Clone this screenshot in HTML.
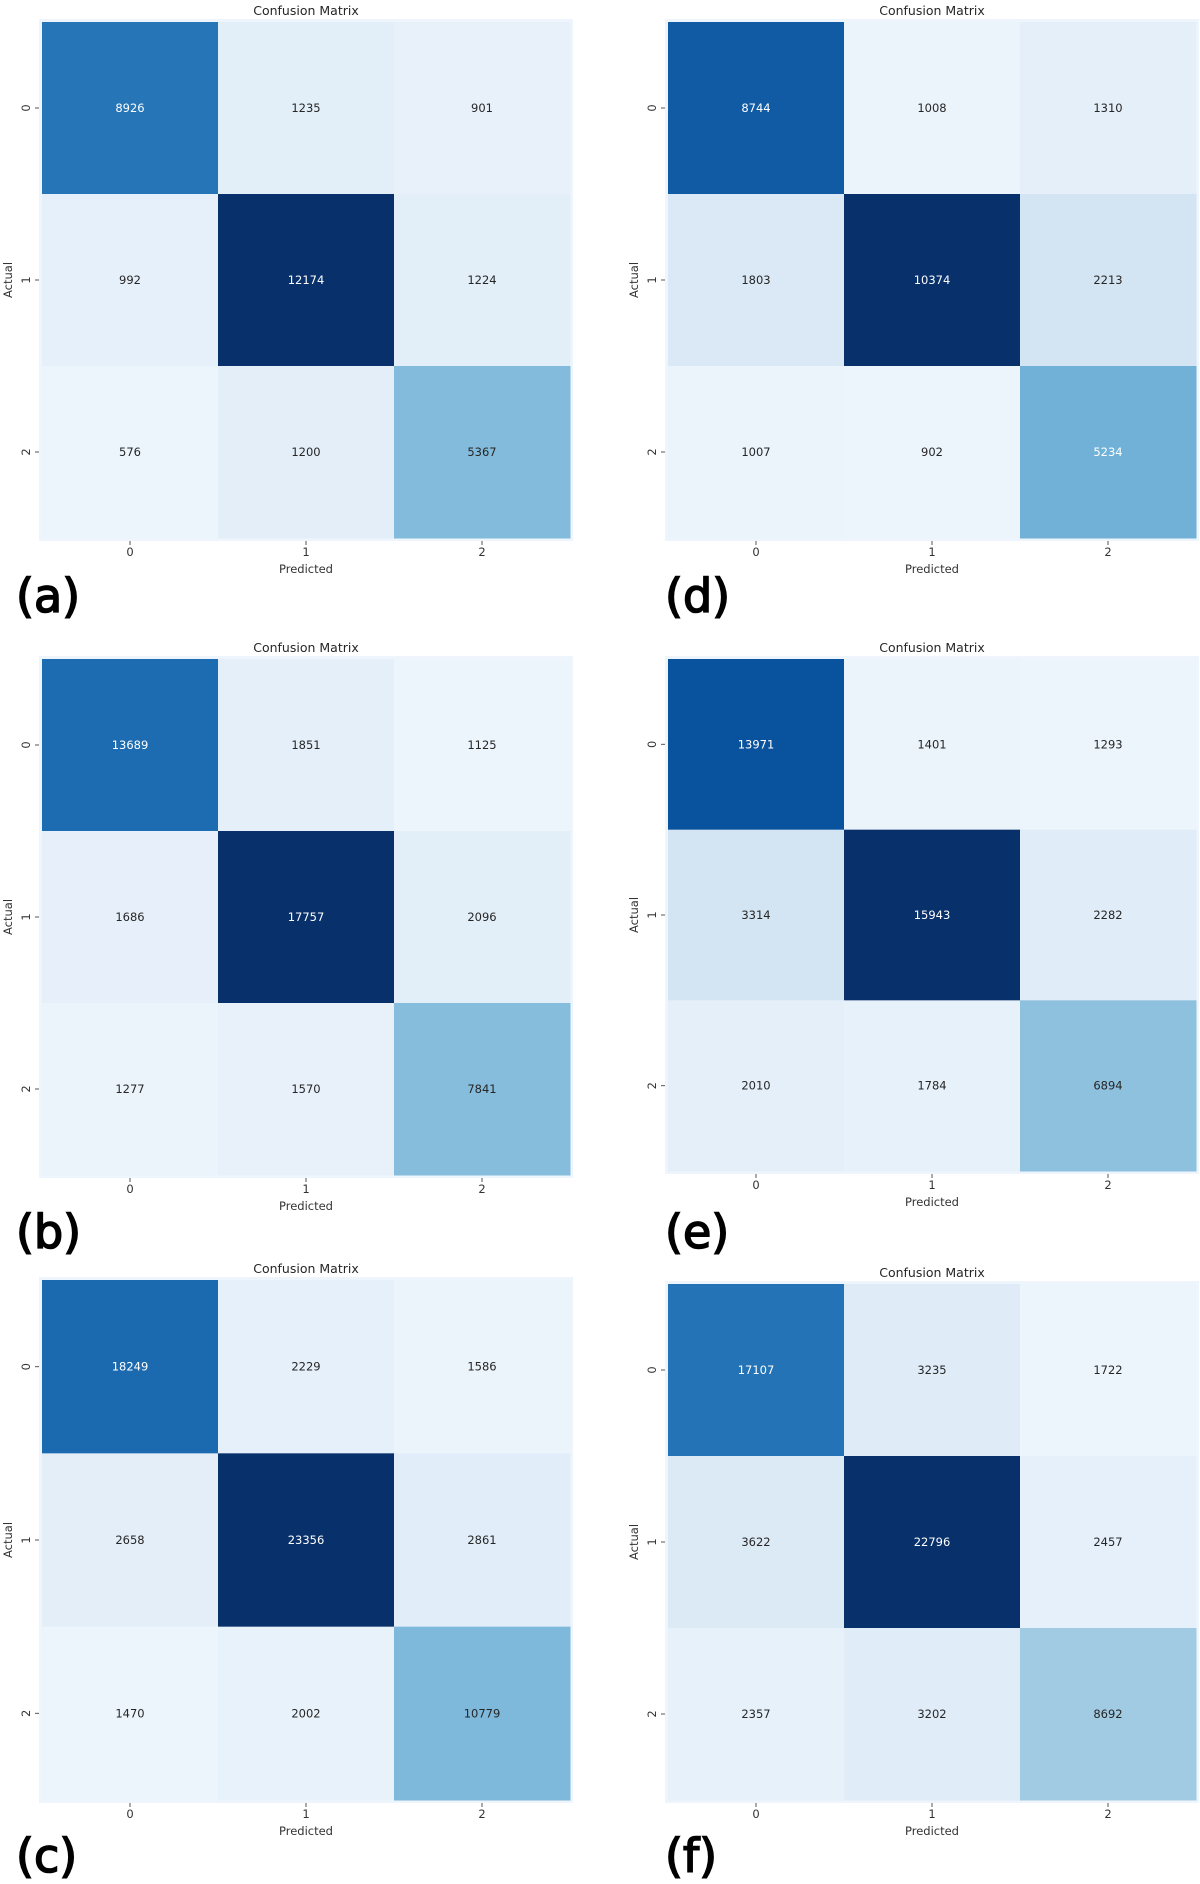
<!DOCTYPE html>
<html><head><meta charset="utf-8"><style>
html,body{margin:0;padding:0;background:#fff;}
svg{display:block;}
text{font-family:"DejaVu Sans","Liberation Sans",sans-serif;}
</style></head>
<body>
<svg id="fig" width="1200" height="1884" viewBox="0 0 1200 1884" xmlns="http://www.w3.org/2000/svg"></svg>
<script>
const panelLabels = ["(a)","(b)","(c)","(d)","(e)","(f)"];
const classLabels = ["0","1","2"];
const matA = [[8926,1235,901],[992,12174,1224],[576,1200,5367]];
const matB = [[13689,1851,1125],[1686,17757,2096],[1277,1570,7841]];
const matC = [[18249,2229,1586],[2658,23356,2861],[1470,2002,10779]];
const matD = [[8744,1008,1310],[1803,10374,2213],[1007,902,5234]];
const matE = [[13971,1401,1293],[3314,15943,2282],[2010,1784,6894]];
const matF = [[17107,3235,1722],[3622,22796,2457],[2357,3202,8692]];
const matrices = [matA,matB,matC,matD,matE,matF];

const NS="http://www.w3.org/2000/svg";
const svg=document.getElementById('fig');
const stops=["#f7fbff","#deebf7","#c6dbef","#9ecae1","#6baed6","#4292c6","#2171b5","#08519c","#08306b"];
function hex(h){return [parseInt(h.slice(1,3),16),parseInt(h.slice(3,5),16),parseInt(h.slice(5,7),16)];}
function blues(t){t=Math.max(0,Math.min(1,t));const p=t*8;const i=Math.min(7,Math.floor(p));const f=p-i;
 const a=hex(stops[i]),b=hex(stops[i+1]);return a.map((v,k)=>Math.round(v+(b[k]-v)*f));}
function lum(c){const l=c.map(v=>{v/=255;return v<=0.03928?v/12.92:Math.pow((v+0.055)/1.055,2.4);});
 return 0.2126*l[0]+0.7152*l[1]+0.0722*l[2];}
function mk(tag,attrs,parent){const e=document.createElementNS(NS,tag);for(const k in attrs)e.setAttribute(k,attrs[k]);(parent||svg).appendChild(e);return e;}

const boxes=[[42,22,528,516],[42,659,528,516],[42,1280,528,520],[668,22,528,516],[668,659,528,512],[668,1284,528,516]];
const labelPos=[[16,612],[16,1248],[16,1872],[665,612],[665,1248],[665,1872]];

matrices.forEach((m,pi)=>{
  const [L,T,W,H]=boxes[pi];
  const g=mk('g',{});
  
  
  const flat=m.flat();const vmin=Math.min(...flat),vmax=Math.max(...flat);
  const cw=W/3,ch=H/3;
  const xs=j=>L+j*cw, ys=i=>T+i*ch;
  const border=mk('rect',{x:L-3,y:T-3,width:W+6,height:H+6,fill:"#eef5fc"},g);
  
  
  m.forEach((row,i)=>row.forEach((v,j)=>{
    const c=blues(0.05+0.95*(v-vmin)/(vmax-vmin));
    const r=mk('rect',{x:xs(j),y:ys(i),width:cw+0.5,height:ch+0.5,fill:`rgb(${c.join(',')})`},g);
    
    
    const t=mk('text',{x:xs(j)+cw/2,y:ys(i)+ch/2+4,'text-anchor':'middle','font-size':11.5,fill:lum(c)>0.408?'#262626':'#ffffff'},g);
    t.textContent=v;
    
    
  }));
  const title=mk('text',{x:L+W/2,y:T-7,'text-anchor':'middle','font-size':12.5,fill:'#262626'},g);
  title.textContent="Confusion Matrix";
  
  
  classLabels.forEach((lab,k)=>{
    mk('line',{x1:xs(k)+cw/2,x2:xs(k)+cw/2,y1:T+H+3,y2:T+H+7,stroke:'#555','stroke-width':1},g);
    const tx=mk('text',{x:xs(k)+cw/2,y:T+H+18,'text-anchor':'middle','font-size':11.5,fill:'#333'},g);
    tx.textContent=lab;
    
    
    mk('line',{x1:L-7,x2:L-3,y1:ys(k)+ch/2,y2:ys(k)+ch/2,stroke:'#555','stroke-width':1},g);
    const ty=mk('text',{x:0,y:0,'text-anchor':'middle','font-size':11.5,fill:'#333',transform:`translate(${L-12},${ys(k)+ch/2}) rotate(-90)`},g);
    ty.textContent=lab;
    
    
  });
  const xl=mk('text',{x:L+W/2,y:T+H+35,'text-anchor':'middle','font-size':11.5,fill:'#333'},g);
  xl.textContent="Predicted";
  
  
  const yl=mk('text',{x:0,y:0,'text-anchor':'middle','font-size':11.5,fill:'#333',transform:`translate(${L-30},${T+H/2}) rotate(-90)`},g);
  yl.textContent="Actual";
  
  
  const pl=mk('text',{x:labelPos[pi][0],y:labelPos[pi][1],'font-size':46,fill:'#000',stroke:'#000','stroke-width':1.6,'font-family':'"Liberation Sans",sans-serif'},g);
  pl.textContent=panelLabels[pi];
  
  
});
</script>
</body></html>
